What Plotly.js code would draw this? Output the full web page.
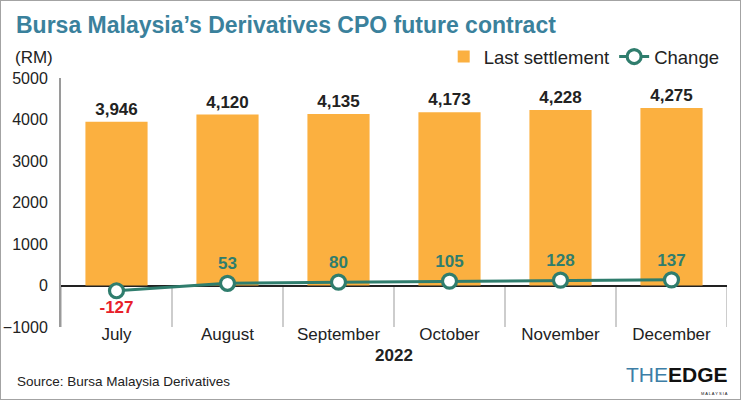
<!DOCTYPE html>
<html><head><meta charset="utf-8">
<script src="https://cdn.plot.ly/plotly-3.0.1.min.js"></script>
<style>
html,body{margin:0;padding:0;background:#fff;}
#wrap{position:relative;width:741px;height:400px;}
#chart{width:741px;height:400px;}
#frame{position:absolute;left:0;top:0;width:741px;height:400px;box-sizing:border-box;border:1px solid #a3a3a3;pointer-events:none;}
</style></head>
<body>
<div id="wrap"><div id="chart"></div><div id="frame"></div></div>
<script>
const months = ["July","August","September","October","November","December"];
const lastSettlement = [3946, 4120, 4135, 4173, 4228, 4275];
const change = [-127, 53, 80, 105, 128, 137];
const yTicks = [-1000, 0, 1000, 2000, 3000, 4000, 5000];

const orange = "#fbb040";
const teal = "#2f7d6d";
const F = "Liberation Sans, Arial, sans-serif";

const bars = {
  type: "bar", name: "Last settlement", x: months, y: lastSettlement,
  marker: {color: orange}, width: 0.56,
  text: lastSettlement.map(v => v.toLocaleString("en-US")),
  textposition: "outside", cliponaxis: false,
  textfont: {family: F, size: 17, color: "#222", weight: "bold"},
  hoverinfo: "none"
};
const line = {
  type: "scatter", mode: "lines+markers+text", name: "Change", x: months, y: change,
  line: {color: teal, width: 3},
  marker: {color: "#fff", size: 14, line: {color: teal, width: 3.2}},
  text: change.map(String),
  textposition: change.map(v => v < 0 ? "bottom center" : "top center"),
  textfont: {family: F, size: 17, weight: "bold", color: change.map(v => v < 0 ? "#e8202a" : teal)},
  cliponaxis: false, hoverinfo: "none"
};

const shapes = [];
for (let i = 0; i <= months.length; i++) {
  shapes.push({type: "line", xref: "x", yref: "y", x0: i - 0.5, x1: i - 0.5, y0: yTicks[1], y1: yTicks[0],
    line: {color: "#bdbdbd", width: 1.5}, layer: "below"});
}

const layout = {
  width: 741, height: 400,
  margin: {l: 61, r: 14, t: 78, b: 73, autoexpand: false},
  paper_bgcolor: "#fff", plot_bgcolor: "#fff",
  font: {family: F, color: "#222"},
  showlegend: true,
  legend: {orientation: "h", xref: "container", yref: "container", x: 0.978, xanchor: "right",
    y: 1 - 57/400, yanchor: "middle",
    font: {family: F, size: 18.5, color: "#222"}, traceorder: "normal", itemwidth: 30},
  bargap: 0.44,
  xaxis: {type: "category", range: [-0.5, months.length - 0.5], showgrid: false, showline: false,
    ticks: "", tickfont: {family: F, size: 17, color: "#222"}, zeroline: false, ticklabelstandoff: -5,
    title: {text: "2022", font: {family: F, size: 17, color: "#222", weight: "bold"}, standoff: 6}},
  yaxis: {range: [yTicks[0], yTicks[yTicks.length - 1]], tickvals: yTicks, showgrid: false,
    showline: true, linecolor: "#9a9a9a", linewidth: 2, ticks: "",
    tickfont: {family: F, size: 16, color: "#222"}, ticklabelstandoff: 8,
    zeroline: true, zerolinecolor: "#222", zerolinewidth: 2},
  shapes: shapes,
  annotations: [
    {xref: "paper", yref: "paper", x: -47/666, y: 1 + 53/249, xanchor: "left", yanchor: "middle",
     text: "<b>Bursa Malaysia’s Derivatives CPO future contract</b>", showarrow: false,
     font: {family: F, size: 23, color: "#3a819c"}},
    {xref: "paper", yref: "paper", x: -48/666, y: 1 + 20/249, xanchor: "left", yanchor: "middle",
     text: "(RM)", showarrow: false, font: {family: F, size: 17, color: "#222"}},
    {xref: "paper", yref: "paper", x: -46/666, y: -54/249, xanchor: "left", yanchor: "middle",
     text: "Source: Bursa Malaysia Derivatives", showarrow: false, font: {family: F, size: 13.5, color: "#222"}},
    {xref: "paper", yref: "paper", x: 1.004, y: -47/249, xanchor: "right", yanchor: "middle",
     text: "<span style='color:#3d7ea6'>THE</span><b>EDGE</b>", showarrow: false,
     font: {family: "Liberation Sans Narrow, Arial Narrow, sans-serif", size: 21, color: "#111"}},
    {xref: "paper", yref: "paper", x: 1.004, y: -66/249, xanchor: "right", yanchor: "middle",
     text: "M A L A Y S I A", showarrow: false, font: {family: F, size: 4, color: "#111"}}
  ]
};

Plotly.newPlot("chart", [bars, line], layout, {staticPlot: true, displayModeBar: false});
</script>
</body></html>
